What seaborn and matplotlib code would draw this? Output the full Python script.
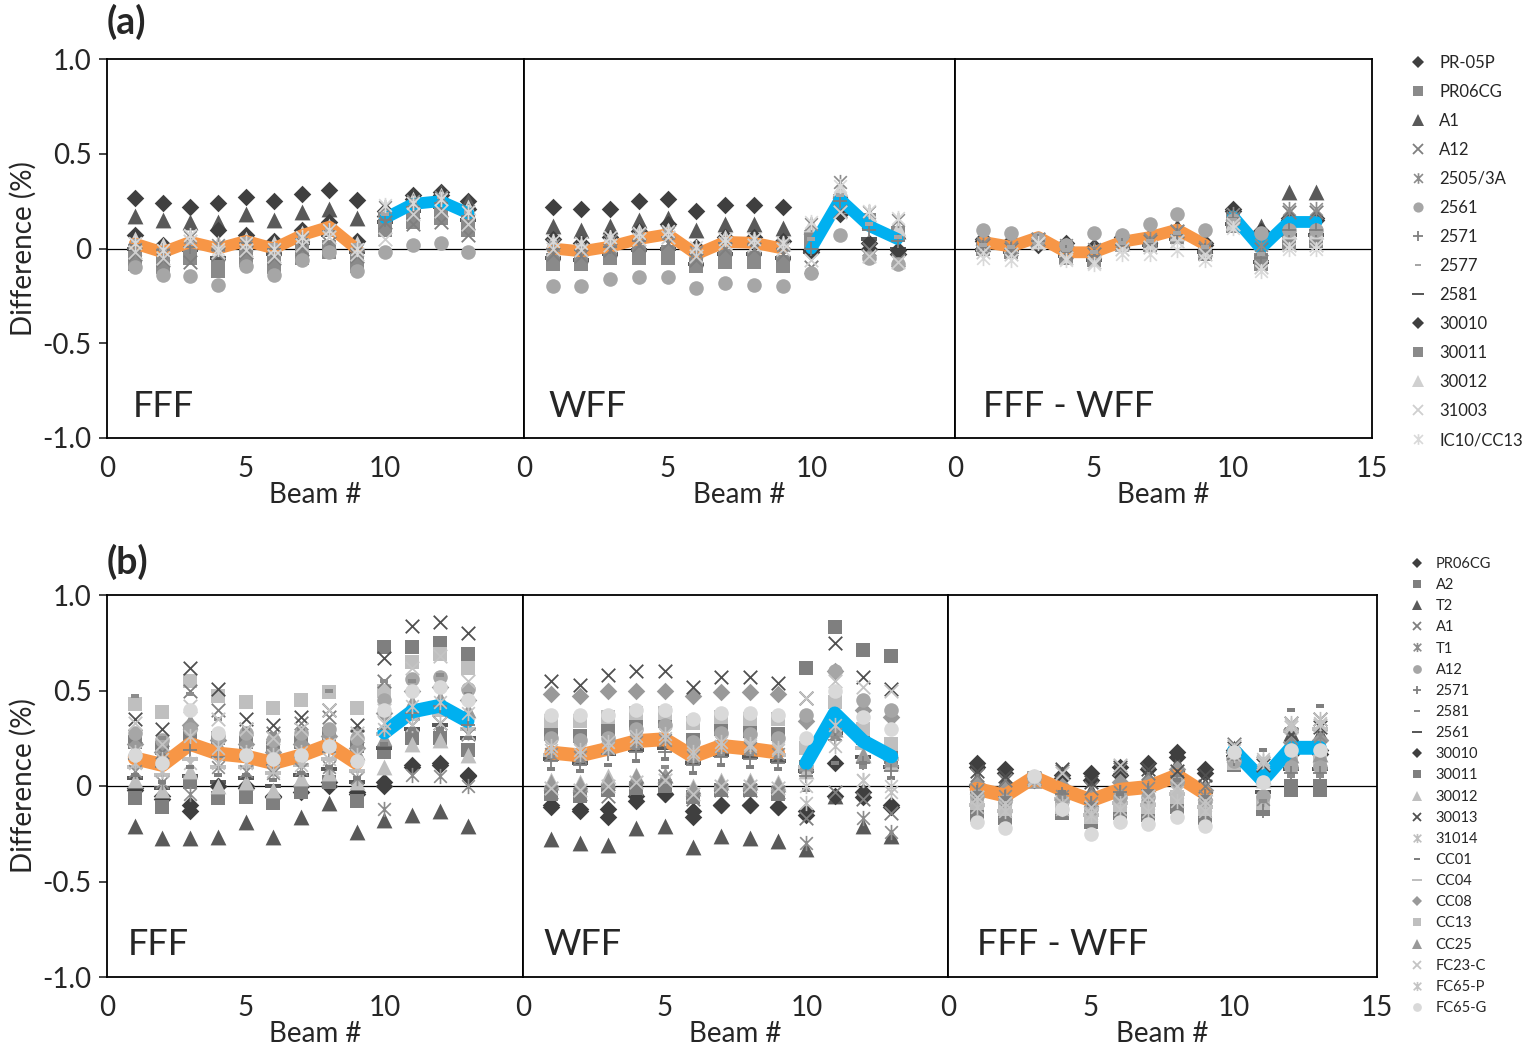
import numpy as np
import pandas as pd
import seaborn as sns
import matplotlib.pyplot as plt
from matplotlib.path import Path
from matplotlib.lines import Line2D

# ---------------- data ----------------
beams = list(range(1, 14))

# (a) detectors
a_fff = {
    "PR-05P":    [0.265, 0.24, 0.22, 0.24, 0.27, 0.25, 0.29, 0.31, 0.255, 0.20, 0.28, 0.30, 0.25],
    "PR06CG":    [-0.08, -0.10, -0.05, -0.10, -0.06, -0.10, -0.05, -0.02, -0.09, 0.10, 0.14, 0.16, 0.10],
    "A1":        [0.17, 0.15, 0.14, 0.14, 0.18, 0.15, 0.19, 0.21, 0.16, 0.21, 0.27, 0.30, 0.25],
    "A12":       [-0.03, -0.06, -0.07, -0.03, -0.02, -0.05, 0.00, 0.03, -0.04, 0.14, 0.13, 0.14, 0.07],
    "2505/3A":   [0.00, -0.03, 0.06, 0.02, 0.02, -0.01, 0.05, 0.10, -0.01, 0.22, 0.25, 0.27, 0.20],
    "2561":      [-0.10, -0.14, -0.145, -0.195, -0.09, -0.14, -0.06, -0.02, -0.12, -0.02, 0.02, 0.03, -0.02],
    "2571":      [0.02, -0.01, 0.01, -0.01, 0.03, 0.00, 0.05, 0.09, 0.00, 0.15, 0.22, 0.24, 0.17],
    "2577":      [0.04, 0.00, 0.03, 0.01, 0.05, 0.02, 0.06, 0.10, 0.02, 0.18, 0.25, 0.27, 0.19],
    "2581":      [0.00, -0.03, -0.01, -0.05, 0.01, -0.03, 0.03, 0.07, -0.02, 0.14, 0.20, 0.22, 0.15],
    "30010":     [0.07, 0.02, 0.01, 0.10, 0.07, 0.04, 0.10, 0.14, 0.04, 0.17, 0.26, 0.28, 0.21],
    "30011":     [-0.05, -0.07, -0.02, -0.12, -0.04, -0.07, -0.02, 0.01, -0.06, 0.16, 0.20, 0.21, 0.14],
    "30012":     [0.05, 0.02, 0.06, 0.03, 0.05, 0.03, 0.08, 0.12, 0.03, 0.20, 0.26, 0.28, 0.22],
    "31003":     [-0.02, -0.05, 0.04, -0.02, -0.01, -0.04, 0.02, 0.06, -0.03, 0.05, 0.18, 0.20, 0.13],
    "IC10/CC13": [0.03, -0.01, 0.07, 0.00, 0.03, 0.00, 0.06, 0.10, 0.00, 0.23, 0.24, 0.26, 0.19],
}
a_fff_mean = [0.026, -0.02, 0.035, 0.0, 0.04, 0.0, 0.07, 0.115, -0.005, 0.16, 0.235, 0.25, 0.185]

a_wff = {
    "PR-05P":    [0.22, 0.21, 0.21, 0.25, 0.26, 0.20, 0.23, 0.23, 0.22, -0.02, 0.18, 0.00, -0.03],
    "PR06CG":    [-0.08, -0.08, -0.05, -0.05, -0.05, -0.09, -0.07, -0.07, -0.09, 0.03, 0.22, 0.13, 0.07],
    "A1":        [0.12, 0.10, 0.12, 0.15, 0.16, 0.10, 0.13, 0.13, 0.11, 0.12, 0.31, 0.15, 0.09],
    "A12":       [-0.03, -0.04, -0.01, 0.02, 0.03, -0.06, 0.00, 0.00, -0.03, -0.10, 0.20, 0.00, -0.06],
    "2505/3A":   [0.02, 0.00, 0.04, 0.07, 0.08, -0.02, 0.05, 0.05, 0.02, 0.13, 0.35, 0.19, 0.15],
    "2561":      [-0.20, -0.20, -0.16, -0.15, -0.15, -0.21, -0.18, -0.19, -0.20, -0.13, 0.07, -0.05, -0.08],
    "2571":      [0.00, -0.01, 0.01, 0.04, 0.06, -0.03, 0.03, 0.02, 0.00, 0.00, 0.25, 0.10, 0.04],
    "2577":      [0.03, 0.02, 0.04, 0.07, 0.09, 0.00, 0.05, 0.04, 0.02, 0.05, 0.28, 0.13, 0.06],
    "2581":      [-0.05, -0.06, -0.03, -0.01, 0.00, -0.08, -0.03, -0.03, -0.05, -0.02, 0.20, 0.05, 0.00],
    "30010":     [0.05, 0.03, 0.06, 0.09, 0.13, 0.01, 0.06, 0.06, 0.04, -0.01, 0.22, 0.03, -0.01],
    "30011":     [-0.06, -0.06, -0.03, -0.02, -0.02, -0.08, -0.04, -0.05, -0.07, 0.06, 0.25, 0.15, 0.08],
    "30012":     [0.04, 0.02, 0.06, 0.09, 0.10, 0.00, 0.06, 0.05, 0.03, 0.13, 0.32, 0.18, 0.11],
    "31003":     [0.00, -0.01, 0.02, 0.05, 0.06, -0.04, 0.03, 0.02, 0.00, -0.06, 0.19, -0.04, -0.07],
    "IC10/CC13": [0.04, 0.03, 0.06, 0.08, 0.09, 0.01, 0.05, 0.05, 0.03, 0.14, 0.33, 0.20, 0.16],
}
a_wff_mean = [0.0, -0.015, 0.01, 0.05, 0.075, -0.03, 0.035, 0.03, 0.0, 0.0, 0.26, 0.12, 0.05]

a_diff = {
    "PR-05P":    [0.04, 0.03, 0.02, 0.01, 0.01, 0.05, 0.06, 0.08, 0.03, 0.21, 0.08, 0.15, 0.15],
    "PR06CG":    [0.00, -0.02, 0.04, -0.05, -0.06, 0.02, 0.03, 0.06, -0.02, 0.17, -0.06, 0.05, 0.06],
    "A1":        [0.06, 0.04, 0.05, 0.03, 0.02, 0.05, 0.07, 0.12, 0.02, 0.19, 0.12, 0.30, 0.30],
    "A12":       [0.02, 0.00, 0.05, -0.02, -0.03, 0.03, 0.04, 0.09, 0.00, 0.16, 0.00, 0.19, 0.19],
    "2505/3A":   [0.03, 0.01, 0.05, 0.02, 0.00, 0.04, 0.05, 0.09, 0.01, 0.18, 0.02, 0.21, 0.21],
    "2561":      [0.10, 0.08, 0.05, 0.02, 0.08, 0.07, 0.13, 0.18, 0.10, 0.15, 0.08, 0.10, 0.10],
    "2571":      [0.01, 0.00, 0.04, -0.02, -0.04, 0.02, 0.03, 0.07, -0.01, 0.16, -0.05, 0.10, 0.10],
    "2577":      [0.02, 0.01, 0.04, -0.01, -0.02, 0.03, 0.04, 0.08, 0.01, 0.15, -0.03, 0.08, 0.08],
    "2581":      [-0.01, -0.02, 0.04, -0.04, -0.06, 0.01, 0.02, 0.05, -0.02, 0.13, -0.07, 0.07, 0.07],
    "30010":     [0.05, 0.04, 0.04, 0.03, 0.00, 0.06, 0.06, 0.10, 0.02, 0.20, 0.09, 0.16, 0.16],
    "30011":     [0.00, -0.01, 0.04, -0.03, -0.05, 0.02, 0.02, 0.06, -0.03, 0.12, -0.08, 0.03, 0.04],
    "30012":     [0.03, 0.02, 0.04, 0.00, -0.01, 0.03, 0.04, 0.08, 0.00, 0.14, 0.04, 0.09, 0.09],
    "31003":     [-0.02, -0.03, 0.03, -0.05, -0.07, 0.00, 0.01, 0.04, -0.03, 0.13, -0.10, 0.02, 0.02],
    "IC10/CC13": [-0.05, -0.06, 0.03, -0.06, -0.08, -0.03, -0.03, -0.01, -0.06, 0.11, -0.12, 0.00, 0.00],
}
a_diff_mean = [0.035, 0.01, 0.06, -0.02, -0.02, 0.035, 0.06, 0.10, 0.02, 0.17, 0.0, 0.14, 0.14]

# (b) detectors
b_fff = {
    "PR06CG": [-0.02, -0.05, -0.13, 0.00, -0.01, -0.05, -0.03, 0.00, -0.04, 0.02, 0.11, 0.12, 0.06],
    "A2":     [0.23, 0.20, 0.27, 0.25, 0.23, 0.20, 0.23, 0.27, 0.21, 0.18, 0.25, 0.25, 0.19],
    "T2":     [-0.21, -0.27, -0.27, -0.265, -0.19, -0.265, -0.16, -0.09, -0.24, -0.18, -0.15, -0.13, -0.21],
    "A1":     [0.26, 0.18, 0.50, 0.40, 0.30, 0.28, 0.33, 0.36, 0.26, 0.55, 0.32, 0.33, 0.27],
    "T1":     [0.08, 0.02, -0.04, 0.10, 0.08, 0.07, 0.09, 0.10, 0.04, -0.12, 0.06, 0.05, 0.00],
    "A12":    [0.28, 0.24, 0.30, 0.26, 0.28, 0.24, 0.28, 0.30, 0.25, 0.45, 0.56, 0.57, 0.51],
    "2571":   [0.14, 0.10, 0.19, 0.15, 0.14, 0.11, 0.15, 0.18, 0.12, 0.30, 0.38, 0.42, 0.32],
    "2581":   [0.47, 0.25, 0.48, 0.35, 0.30, 0.27, 0.30, 0.50, 0.30, 0.55, 0.55, 0.58, 0.48],
    "2561":   [0.04, -0.01, 0.05, 0.02, 0.04, 0.00, 0.06, 0.09, 0.02, 0.20, 0.30, 0.32, 0.25],
    "30010":  [-0.01, -0.07, -0.10, 0.00, 0.00, -0.06, 0.00, 0.02, -0.03, 0.00, 0.10, 0.11, 0.05],
    "30011":  [-0.065, -0.11, 0.02, -0.065, -0.055, -0.09, -0.03, 0.02, -0.08, 0.73, 0.73, 0.75, 0.69],
    "30012":  [0.03, -0.02, 0.08, 0.00, 0.02, -0.02, 0.04, 0.07, 0.02, 0.10, 0.22, 0.24, 0.16],
    "30013":  [0.35, 0.30, 0.62, 0.51, 0.35, 0.32, 0.36, 0.40, 0.32, 0.67, 0.84, 0.86, 0.80],
    "31014":  [0.12, 0.08, 0.12, 0.12, 0.12, 0.08, 0.11, 0.14, 0.10, 0.30, 0.32, 0.33, 0.28],
    "CC01":   [0.06, 0.02, 0.10, 0.06, 0.06, 0.03, 0.07, 0.10, 0.04, 0.22, 0.30, 0.30, 0.25],
    "CC04":   [0.10, 0.06, 0.14, 0.10, 0.10, 0.07, 0.11, 0.14, 0.08, 0.27, 0.35, 0.37, 0.30],
    "CC08":   [0.22, 0.18, 0.32, 0.24, 0.22, 0.18, 0.22, 0.26, 0.20, 0.38, 0.50, 0.52, 0.45],
    "CC13":   [0.43, 0.39, 0.55, 0.47, 0.44, 0.41, 0.45, 0.49, 0.41, 0.50, 0.65, 0.69, 0.62],
    "CC25":   [0.20, 0.16, 0.34, 0.22, 0.20, 0.16, 0.20, 0.24, 0.18, 0.25, 0.44, 0.46, 0.40],
    "FC23-C": [0.33, 0.22, 0.42, 0.35, 0.30, 0.25, 0.30, 0.40, 0.28, 0.40, 0.62, 0.68, 0.55],
    "FC65-P": [0.18, 0.14, 0.26, 0.20, 0.18, 0.16, 0.18, 0.22, 0.16, 0.33, 0.42, 0.44, 0.38],
    "FC65-G": [0.16, 0.12, 0.40, 0.28, 0.16, 0.14, 0.16, 0.21, 0.13, 0.40, 0.50, 0.52, 0.45],
}
b_fff_mean = [0.145, 0.11, 0.22, 0.17, 0.155, 0.12, 0.16, 0.215, 0.12, 0.28, 0.39, 0.42, 0.34]

b_wff = {
    "PR06CG": [-0.11, -0.13, -0.12, -0.08, -0.04, -0.13, -0.10, -0.10, -0.11, -0.13, 0.12, -0.03, -0.10],
    "A2":     [0.27, 0.26, 0.30, 0.33, 0.34, 0.24, 0.30, 0.29, 0.27, 0.62, 0.83, 0.71, 0.68],
    "T2":     [-0.28, -0.30, -0.31, -0.22, -0.21, -0.32, -0.26, -0.27, -0.29, -0.33, -0.05, -0.21, -0.26],
    "A1":     [-0.03, -0.04, -0.05, -0.01, 0.05, -0.07, -0.02, -0.02, -0.03, -0.17, -0.03, -0.07, -0.14],
    "T1":     [0.17, 0.15, 0.20, 0.23, 0.24, 0.15, 0.21, 0.20, 0.17, -0.30, 0.27, -0.17, -0.24],
    "A12":    [0.25, 0.24, 0.25, 0.30, 0.32, 0.23, 0.28, 0.27, 0.25, 0.37, 0.60, 0.45, 0.40],
    "2571":   [0.13, 0.11, 0.165, 0.18, 0.18, 0.11, 0.15, 0.14, 0.12, 0.05, 0.24, 0.12, 0.08],
    "2581":   [0.15, 0.13, 0.18, 0.20, 0.10, 0.13, 0.17, 0.17, 0.15, -0.02, 0.25, 0.10, 0.04],
    "2561":   [0.14, 0.12, 0.17, 0.19, 0.20, 0.12, 0.16, 0.15, 0.13, 0.08, 0.28, 0.15, 0.10],
    "30010":  [-0.10, -0.12, -0.16, -0.05, -0.04, -0.16, -0.10, -0.10, -0.11, -0.15, -0.05, -0.06, -0.11],
    "30011":  [-0.04, -0.05, -0.02, -0.01, 0.00, -0.06, -0.02, -0.02, -0.04, 0.10, 0.30, 0.25, 0.15],
    "30012":  [0.03, 0.02, 0.05, 0.06, 0.06, 0.00, 0.03, 0.03, 0.02, 0.08, 0.30, 0.17, 0.12],
    "30013":  [0.55, 0.53, 0.58, 0.60, 0.60, 0.52, 0.57, 0.57, 0.54, 0.46, 0.75, 0.57, 0.51],
    "31014":  [0.19, 0.17, 0.20, 0.24, 0.25, 0.16, 0.21, 0.21, 0.19, -0.09, 0.21, 0.03, -0.03],
    "CC01":   [0.09, 0.08, 0.11, 0.13, 0.14, 0.07, 0.11, 0.10, 0.09, -0.02, 0.12, 0.12, 0.04],
    "CC04":   [0.16, 0.14, 0.19, 0.22, 0.23, 0.14, 0.19, 0.18, 0.16, 0.10, 0.30, 0.20, 0.14],
    "CC08":   [0.48, 0.47, 0.50, 0.50, 0.50, 0.47, 0.49, 0.49, 0.48, 0.34, 0.60, 0.40, 0.36],
    "CC13":   [0.34, 0.34, 0.36, 0.38, 0.38, 0.33, 0.36, 0.35, 0.35, 0.20, 0.44, 0.30, 0.22],
    "CC25":   [0.02, 0.01, 0.03, 0.05, 0.06, -0.01, 0.02, 0.02, 0.01, 0.12, 0.30, 0.16, 0.14],
    "FC23-C": [-0.01, -0.02, 0.00, 0.02, 0.03, -0.04, 0.00, 0.00, -0.01, 0.46, 0.55, 0.52, 0.50],
    "FC65-P": [0.21, 0.19, 0.23, 0.26, 0.27, 0.18, 0.23, 0.22, 0.20, 0.00, 0.32, 0.03, 0.00],
    "FC65-G": [0.37, 0.37, 0.37, 0.40, 0.40, 0.35, 0.38, 0.38, 0.37, 0.25, 0.50, 0.36, 0.30],
}
b_wff_mean = [0.175, 0.16, 0.195, 0.235, 0.245, 0.155, 0.21, 0.195, 0.175, 0.12, 0.38, 0.235, 0.155]

b_diff = {
    "PR06CG": [0.10, 0.07, 0.03, 0.04, 0.03, 0.06, 0.09, 0.15, 0.07, 0.18, 0.05, 0.17, 0.17],
    "A2":     [-0.12, -0.14, 0.03, -0.10, -0.17, -0.11, -0.12, -0.08, -0.14, 0.12, -0.10, 0.00, 0.00],
    "T2":     [0.04, 0.03, 0.03, 0.01, -0.02, 0.03, 0.05, 0.12, 0.01, 0.20, 0.08, 0.28, 0.28],
    "A1":     [0.06, 0.03, 0.04, 0.08, -0.01, 0.09, 0.07, 0.05, 0.00, 0.22, 0.12, 0.33, 0.35],
    "T1":     [-0.02, -0.05, 0.03, -0.05, -0.09, -0.03, -0.01, 0.05, -0.05, 0.16, -0.07, 0.25, 0.26],
    "A12":    [-0.05, -0.08, 0.04, -0.08, -0.12, -0.06, -0.06, 0.02, -0.08, 0.13, -0.05, 0.10, 0.10],
    "2571":   [-0.03, -0.06, 0.04, -0.04, -0.09, -0.03, -0.02, 0.05, -0.05, 0.14, -0.13, 0.07, 0.07],
    "2581":   [-0.07, -0.10, 0.03, -0.06, -0.13, -0.05, -0.08, 0.01, -0.07, 0.14, -0.08, 0.05, 0.05],
    "2561":   [0.00, -0.03, 0.04, -0.02, -0.06, -0.01, 0.00, 0.07, -0.03, 0.15, -0.03, 0.09, 0.09],
    "30010":  [0.12, 0.09, 0.04, 0.06, 0.07, 0.10, 0.12, 0.18, 0.09, 0.19, 0.07, 0.19, 0.19],
    "30011":  [-0.15, -0.17, 0.03, -0.14, -0.19, -0.14, -0.15, -0.11, -0.17, 0.11, -0.12, -0.02, -0.02],
    "30012":  [0.02, -0.01, 0.04, -0.01, -0.04, 0.01, 0.02, 0.09, -0.01, 0.17, 0.03, 0.22, 0.22],
    "30013":  [0.08, 0.05, 0.04, 0.09, 0.02, 0.10, 0.09, 0.08, 0.06, 0.20, 0.11, 0.27, 0.31],
    "31014":  [-0.08, -0.11, 0.03, -0.09, -0.14, -0.08, -0.09, -0.03, -0.10, 0.16, 0.13, 0.33, 0.35],
    "CC01":   [-0.04, -0.07, 0.04, -0.03, -0.10, -0.04, -0.03, 0.03, -0.06, 0.16, 0.19, 0.40, 0.42],
    "CC04":   [-0.10, -0.13, 0.03, -0.07, -0.15, -0.09, -0.10, -0.04, -0.11, 0.14, 0.09, 0.29, 0.30],
    "CC08":   [0.01, -0.02, 0.04, 0.00, -0.05, 0.02, 0.02, 0.09, -0.02, 0.18, 0.04, 0.23, 0.24],
    "CC13":   [-0.09, -0.12, 0.04, -0.11, -0.16, -0.10, -0.11, -0.06, -0.12, 0.12, -0.09, 0.13, 0.13],
    "CC25":   [0.00, -0.03, 0.03, -0.03, -0.07, 0.00, 0.01, 0.06, -0.03, 0.17, 0.05, 0.16, 0.17],
    "FC23-C": [-0.06, -0.09, 0.04, 0.07, -0.11, 0.11, -0.05, 0.00, -0.08, 0.21, 0.12, 0.31, 0.32],
    "FC65-P": [-0.11, -0.13, 0.03, -0.12, -0.15, -0.12, -0.13, -0.08, -0.13, 0.19, 0.14, 0.32, 0.33],
    "FC65-G": [-0.19, -0.22, 0.05, -0.12, -0.25, -0.19, -0.20, -0.16, -0.21, 0.18, 0.02, 0.19, 0.19],
}
b_diff_mean = [-0.015, -0.05, 0.045, -0.02, -0.075, -0.02, -0.005, 0.055, -0.04, 0.185, 0.03, 0.20, 0.20]

yticks = [-1.0, -0.5, 0.0, 0.5, 1.0]
ytick_labels = ["-1.0", "-0.5", "0", "0.5", "1.0"]
xticks = [0, 5, 10, 15]

# ---------------- styles ----------------
sns.set_style("white")
plt.rcParams['font.family'] = ['Lato', 'DejaVu Sans']

MV, LN = Path.MOVETO, Path.LINETO
star = Path([(-1, -1), (1, 1), (-1, 1), (1, -1), (0, -1.2), (0, 1.2)], [MV, LN, MV, LN, MV, LN])
short_dash = [(-1, -0.45), (1, -0.45), (1, 0.45), (-1, 0.45)]
long_dash = [(-1, -0.22), (1, -0.22), (1, 0.22), (-1, 0.22)]

# marker, size (pt^2), edge width, drawn above the mean line?
MK = {"D": ("D", 80, 0, False), "s": ("s", 100, 0, False), "^": ("^", 130, 0, False),
      "o": ("o", 110, 0, True), "x": ("x", 95, 1.3, True), "+": ("+", 105, 1.3, True),
      "*": (star, 120, 1.2, True), "sd": (short_dash, 40, 0, True), "ld": (long_dash, 130, 0, False)}

style_a = {
    "PR-05P": ("D", "#3f3f3f"), "PR06CG": ("s", "#8a8a8a"), "A1": ("^", "#595959"),
    "A12": ("x", "#7f7f7f"), "2505/3A": ("*", "#8c8c8c"), "2561": ("o", "#a6a6a6"),
    "2571": ("+", "#7f7f7f"), "2577": ("sd", "#a6a6a6"), "2581": ("ld", "#595959"),
    "30010": ("D", "#3f3f3f"), "30011": ("s", "#8a8a8a"), "30012": ("^", "#d0d0d0"),
    "31003": ("x", "#cfcfcf"), "IC10/CC13": ("*", "#d9d9d9"),
}
style_b = {
    "PR06CG": ("D", "#3f3f3f"), "A2": ("s", "#7f7f7f"), "T2": ("^", "#595959"),
    "A1": ("x", "#7f7f7f"), "T1": ("*", "#8c8c8c"), "A12": ("o", "#a6a6a6"),
    "2571": ("+", "#7f7f7f"), "2581": ("sd", "#8c8c8c"), "2561": ("ld", "#595959"),
    "30010": ("D", "#3f3f3f"), "30011": ("s", "#7f7f7f"), "30012": ("^", "#bfbfbf"),
    "30013": ("x", "#505050"), "31014": ("*", "#bfbfbf"), "CC01": ("sd", "#7f7f7f"),
    "CC04": ("ld", "#bfbfbf"), "CC08": ("D", "#999999"), "CC13": ("s", "#bfbfbf"),
    "CC25": ("^", "#999999"), "FC23-C": ("x", "#c4c4c4"), "FC65-P": ("*", "#c4c4c4"),
    "FC65-G": ("o", "#d9d9d9"),
}

ORANGE, BLUE = "#f79646", "#00b0f0"
W, H = 1528, 1051


def px_rect(x0, x1, ytop, ybot):
    return [x0 / W, 1 - ybot / H, (x1 - x0) / W, (ybot - ytop) / H]


def draw_panel(ax, data, styles, mean, label, lw, first, last, lab_pos):
    sns.lineplot(x=beams[:9], y=mean[:9], ax=ax, color=ORANGE, lw=lw,
                 solid_capstyle='round', solid_joinstyle='round', zorder=2)
    sns.lineplot(x=beams[9:], y=mean[9:], ax=ax, color=BLUE, lw=lw,
                 solid_capstyle='round', solid_joinstyle='round', zorder=2)
    for name, vals in data.items():
        key, col = styles[name]
        m, s, ew, on_top = MK[key]
        df = pd.DataFrame({"Beam": beams, "Diff": vals})
        sns.scatterplot(data=df, x="Beam", y="Diff", ax=ax, marker=m, color=col, s=s,
                        edgecolor=col, linewidth=ew, zorder=3 if on_top else 1.8, legend=False)
    ax.axhline(0, color="black", lw=0.9, zorder=1.5)
    ax.set_xlim(0, 15)
    ax.set_ylim(-1, 1)
    ax.set_xticks(xticks)
    ax.set_xticklabels(["0", "5", "10", "15" if last else ""])
    ax.set_xlabel("Beam #", fontsize=20, labelpad=0)
    if first:
        ax.set_yticks(yticks)
        ax.set_yticklabels(ytick_labels)
        ax.set_ylabel("Difference (%)", fontsize=20, labelpad=4)
    else:
        ax.set_yticks([])
        ax.set_ylabel("")
    ax.tick_params(axis="both", direction="out", length=6, width=1.2, labelsize=20, pad=5)
    ax.tick_params(axis="x", pad=7)
    ax.tick_params(axis="y", left=first)
    for sp in ax.spines.values():
        sp.set_color("black")
        sp.set_linewidth(1.3)
    ax.text(lab_pos[0], lab_pos[1], label, transform=ax.transAxes, fontsize=26, va="baseline")


def legend_handles(styles, scale):
    hs = []
    for name, (key, col) in styles.items():
        m, s, ew, _ = MK[key]
        hs.append(Line2D([], [], linestyle="none", marker=m, color=col, markerfacecolor=col,
                         markeredgecolor=col, markersize=np.sqrt(s) * scale,
                         markeredgewidth=ew if ew else 0))
    return hs


fig = plt.figure(figsize=(W / 100, H / 100), dpi=100)

top_x = [(107, 524), (524, 955), (955, 1372)]
bot_x = [(107, 523), (523, 948), (948, 1377)]
labels = ["FFF", "WFF", "FFF - WFF"]
top_data = [(a_fff, a_fff_mean), (a_wff, a_wff_mean), (a_diff, a_diff_mean)]
bot_data = [(b_fff, b_fff_mean), (b_wff, b_wff_mean), (b_diff, b_diff_mean)]
top_lab = [(0.062, 0.055), (0.056, 0.055), (0.067, 0.055)]
bot_lab = [(0.05, 0.058), (0.047, 0.058), (0.068, 0.058)]

for i in range(3):
    ax = fig.add_axes(px_rect(*top_x[i], 59, 438))
    draw_panel(ax, top_data[i][0], style_a, top_data[i][1], labels[i], 8.5, i == 0, i == 2, top_lab[i])
    ax = fig.add_axes(px_rect(*bot_x[i], 595, 977))
    draw_panel(ax, bot_data[i][0], style_b, bot_data[i][1], labels[i], 10, i == 0, i == 2, bot_lab[i])

fig.text(107 / W, 1 - 22 / H, "(a)", fontsize=27, fontweight="bold", va="center")
fig.text(107 / W, 1 - 562 / H, "(b)", fontsize=27, fontweight="bold", va="center")

fig.legend(legend_handles(style_a, 0.7), list(style_a.keys()), loc="upper left",
           bbox_to_anchor=(1410 / W, 1 - 55 / H), frameon=False, fontsize=12,
           labelspacing=0.78, handlelength=1.0, handletextpad=0.75, borderaxespad=0,
           borderpad=0)
fig.legend(legend_handles(style_b, 0.6), list(style_b.keys()), loc="upper left",
           bbox_to_anchor=(1410 / W, 1 - 557 / H), frameon=False, fontsize=10.5,
           labelspacing=0.49, handlelength=1.0, handletextpad=0.75, borderaxespad=0,
           borderpad=0)

fig.savefig("out.png", dpi=100)
